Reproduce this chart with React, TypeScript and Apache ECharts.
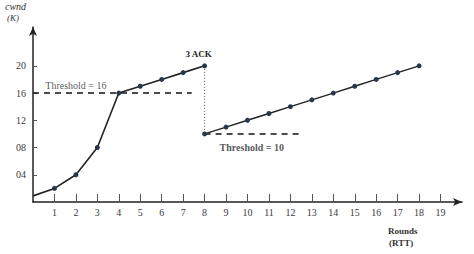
import React, { useEffect, useRef } from "react";
import * as echarts from "echarts";

const rounds = [0, 1, 2, 3, 4, 5, 6, 7, 8];
const cwndSlowStart = [0.9, 2, 4, 8, 16, 17, 18, 19, 20];
const roundsAfter = [8, 9, 10, 11, 12, 13, 14, 15, 16, 17, 18];
const cwndAfter = [10, 11, 12, 13, 14, 15, 16, 17, 18, 19, 20];
const xTicks = [1, 2, 3, 4, 5, 6, 7, 8, 9, 10, 11, 12, 13, 14, 15, 16, 17, 18, 19];
const yTicks = [4, 8, 12, 16, 20];
const threshold1 = 16;
const threshold1Span = [0, 7.4];
const threshold2 = 10;
const threshold2Span = [8, 12.6];
const lossRound = 8;

const FONT = "Liberation Serif";
const TXT = "#3a3a3a";
const LINE = "#222";
const DOT = "#2b3646";

export default function App() {
  const ref = useRef<HTMLDivElement>(null);
  useEffect(() => {
    const chart = echarts.init(ref.current!, null, { renderer: "svg" });
    chart.setOption({
      animation: false,
      grid: { left: 33, right: 12, top: 27, bottom: 52 },
      xAxis: {
        type: "value",
        min: 0,
        max: 20,
        splitLine: { show: false },
        axisLine: { lineStyle: { color: LINE, width: 1.5 }, symbol: ["none", "arrow"], symbolSize: [6, 9] },
        axisTick: { customValues: xTicks, inside: true, length: 8, lineStyle: { color: "#555" } },
        axisLabel: { customValues: xTicks, color: TXT, fontFamily: FONT, fontSize: 10, margin: 5 },
      },
      yAxis: {
        type: "value",
        min: 0,
        max: 25.7,
        splitLine: { show: false },
        axisLine: { lineStyle: { color: LINE, width: 1.5 }, symbol: ["none", "arrow"], symbolSize: [6, 9] },
        axisTick: { customValues: yTicks, inside: true, length: 4, lineStyle: { color: "#555" } },
        axisLabel: {
          customValues: yTicks,
          color: TXT,
          fontFamily: FONT,
          fontSize: 10,
          margin: 7,
          formatter: (v: number) => (v < 10 ? "0" + v : String(v)),
        },
      },
      series: [
        {
          type: "line",
          data: rounds.map((r, i) => ({
            value: [r, cwndSlowStart[i]],
            symbol: i === 0 ? "none" : "circle",
            label: i === rounds.length - 1
              ? { show: true, formatter: "3 ACK", position: "top", distance: 5, offset: [-6, 0], color: "#222", fontFamily: FONT, fontSize: 9, fontWeight: "bold" }
              : { show: false },
          })),
          showSymbol: true,
          symbolSize: 5,
          itemStyle: { color: DOT },
          lineStyle: { color: LINE, width: 1.6 },
          z: 5,
        },
        {
          type: "line",
          data: [[lossRound, cwndSlowStart[cwndSlowStart.length - 1]], [lossRound, cwndAfter[0]]],
          showSymbol: false,
          lineStyle: { color: "#555", width: 1, type: [1, 2] },
        },
        {
          type: "line",
          data: roundsAfter.map((r, i) => [r, cwndAfter[i]]),
          symbol: "circle",
          symbolSize: 5,
          itemStyle: { color: DOT },
          lineStyle: { color: LINE, width: 1.4 },
          z: 5,
        },
        {
          type: "line",
          data: threshold1Span.map((x) => [x, threshold1]),
          showSymbol: false,
          lineStyle: { color: "#111", width: 1.5, type: [6, 5] },
        },
        {
          type: "line",
          data: threshold2Span.map((x) => [x, threshold2]),
          showSymbol: false,
          lineStyle: { color: "#111", width: 1.5, type: [6, 5] },
        },
        {
          type: "scatter",
          symbolSize: 0,
          silent: true,
          data: [
            { value: [2, threshold1], label: { show: true, formatter: "Threshold = 16", position: "top", distance: 3 } },
            { value: [10.2, threshold2], label: { show: true, formatter: "Threshold = 10", position: "bottom", distance: 9, fontWeight: "bold" } },
          ],
          label: { color: "#2a2a2a", fontFamily: FONT, fontSize: 10 },
        },
      ],
      graphic: [
        { type: "text", left: 5, top: 1, style: { text: "cwnd", font: `italic 10px "${FONT}"`, fill: "#333" } },
        { type: "text", left: 7, top: 13, style: { text: "(K)", font: `italic 9px "${FONT}"`, fill: "#333" } },
        { type: "text", left: 388, top: 226, style: { text: "Rounds", font: `bold 9px "${FONT}"`, fill: "#333" } },
        { type: "text", left: 389, top: 238, style: { text: "(RTT)", font: `bold 9px "${FONT}"`, fill: "#333" } },
      ],
    });
    return () => chart.dispose();
  }, []);
  return <div ref={ref} style={{ width: 474, height: 254, position: "absolute", left: 0, top: 0 }} />;
}
